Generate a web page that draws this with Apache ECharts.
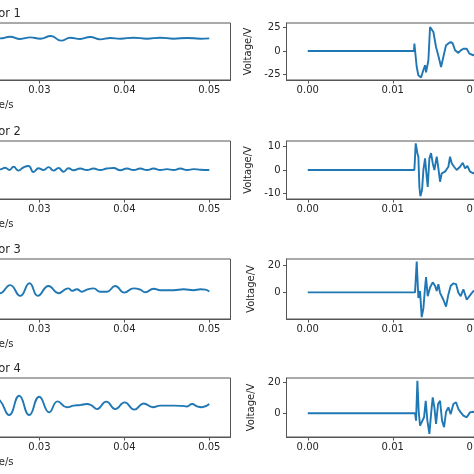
<!DOCTYPE html>
<html>
<head>
<meta charset="utf-8">
<script src="https://cdn.jsdelivr.net/npm/echarts@6/dist/echarts.min.js"></script>
<style>html,body{margin:0;padding:0;background:#fff;}#c{width:474px;height:474px;}</style>
</head>
<body>
<div id="c"></div>
<script>
// ---------- data ----------
const titles = ['Sensor 1', 'Sensor 2', 'Sensor 3', 'Sensor 4'];
const xTicks = [0, 0.01, 0.02, 0.03, 0.04, 0.05];

// left column (late-time response)
const tL1 = [0.0245,0.02537,0.02655,0.02773,0.02891,0.03009,0.03135,0.03256,0.03362,0.0348,0.03598,0.03716,0.03834,0.03952,0.04109,0.04266,0.04424,0.04581,0.04738,0.04895,0.05];
const vL1 = [-0.02,-0.08,0.04,-0.12,-0.01,-0.10,0.09,-0.24,-0.03,-0.12,0.02,-0.15,-0.05,-0.10,-0.03,-0.10,-0.03,-0.10,-0.05,-0.10,-0.08];
const tL2 = [0.0245,0.02537,0.02596,0.02647,0.02695,0.02753,0.02812,0.02871,0.0293,0.02989,0.03048,0.03107,0.03166,0.03225,0.03284,0.03343,0.03402,0.0348,0.03559,0.03637,0.03716,0.03794,0.03873,0.03952,0.0403,0.04109,0.04187,0.04266,0.04344,0.04424,0.04502,0.04581,0.04659,0.04738,0.04816,0.04895,0.05];
const vL2 = [0.08,0.02,0.08,0,0.11,-0.02,0.09,0.14,-0.07,0.06,0,0.10,-0.02,0.07,-0.06,0.06,-0.01,0.05,0,0.05,0,0.05,0.07,-0.01,0.05,0,0.05,0,0.05,0,0.03,0,0.05,0,0.03,0.01,0];
const tL3 = [0.0245,0.02537,0.02655,0.02773,0.02883,0.02981,0.03107,0.03225,0.03304,0.03343,0.03382,0.03441,0.035,0.03559,0.03637,0.03716,0.03794,0.03893,0.03999,0.04109,0.04187,0.04246,0.04344,0.04424,0.04581,0.04698,0.04816,0.04895,0.04954,0.05];
const vL3 = [0.1,-0.14,0.13,-0.23,0.19,-0.23,0.10,-0.14,-0.01,0.02,-0.06,-0.01,-0.09,-0.02,0.02,-0.09,-0.09,0.10,-0.12,0.02,-0.02,-0.11,0.01,-0.04,-0.04,-0.01,-0.04,-0.01,-0.02,-0.09];
const tL4 = [0.0245,0.02537,0.02643,0.02761,0.02879,0.02997,0.03115,0.03213,0.03324,0.03402,0.0348,0.03559,0.03618,0.03677,0.03787,0.03893,0.04003,0.04117,0.04227,0.04337,0.04424,0.04581,0.04678,0.04738,0.04797,0.04856,0.04914,0.05];
const vL4 = [0.3,0.15,-0.38,0.34,-0.38,0.30,-0.28,0.13,-0.09,-0.03,-0.01,0.03,-0.03,-0.16,0.12,-0.16,0.09,-0.18,0.05,-0.09,-0.03,-0.03,-0.04,-0.06,0.03,-0.06,-0.09,0.03];

// right column (onset of burst)
const tR1 = [0,0.0125,0.012545,0.012819,0.013015,0.013329,0.013604,0.0138,0.013918,0.014192,0.014388,0.014584,0.01478,0.015094,0.01525,0.015447,0.015682,0.015957,0.01627,0.016545,0.016819,0.017055,0.017329,0.017721,0.017996,0.01831,0.018702,0.019016,0.019486,0.0200,0.0206];
const vR1 = [0,0,7.8,-16.9,-25.6,-28,-20,-15,-22.6,-9.8,25.3,27,20,4.2,6,-8,-16.9,-6,6,8,9.5,8,0.7,-2,0.7,2.4,2.4,-2.8,-4.5,-3,1];
const tR2 = [0,0.012545,0.012702,0.012898,0.013015,0.013133,0.013251,0.013447,0.013604,0.0138,0.013996,0.014114,0.01431,0.014506,0.014702,0.014898,0.015173,0.015369,0.015565,0.015761,0.016153,0.016545,0.016741,0.016937,0.017212,0.017526,0.017918,0.018231,0.018506,0.01878,0.019094,0.019486,0.0201];
const vR2 = [0,0,11.4,7.2,5.7,-7.2,-11.2,-8.6,0,5,-3,-7.2,5,7.2,2.9,0,5.7,0.7,-5,-1.4,-0.7,1.4,5.7,2.9,1.4,0,1.4,3.1,0.7,1.7,-0.7,-1.4,-0.5];
const tR3 = [0,0.012624,0.012819,0.013015,0.013212,0.013408,0.013604,0.0138,0.013918,0.014114,0.014388,0.014702,0.014976,0.015173,0.015369,0.015565,0.015957,0.01627,0.016545,0.016819,0.017133,0.017447,0.017721,0.017996,0.01831,0.018702,0.019016,0.019486,0.0201];
const vR3 = [0,0,22.8,-4.1,1,-18.2,-11.8,3.6,11.3,-2.8,3.6,7.4,4.9,1,6.1,-0.3,-5.4,-10.5,-1.5,4.9,6.6,6.1,-0.3,-2.8,2.3,-5.4,-2.8,1,0];
const tR4 = [0,0.012624,0.012741,0.012898,0.013055,0.013212,0.013447,0.013682,0.013878,0.014074,0.01431,0.014506,0.014702,0.014898,0.015094,0.01533,0.015565,0.0158,0.016035,0.01627,0.016545,0.016819,0.017133,0.017447,0.017721,0.017996,0.01831,0.018702,0.019094,0.019486,0.0201];
const vR4 = [0,0,-4.8,21.3,1,-8.1,-7,-2.6,8.2,-4.8,-13.5,-0.5,10.4,3.9,-7,6.1,8.2,-4.8,-9.1,1,3.9,-0.5,6.1,7.2,2.8,0.6,-1.5,-2.6,0.6,1,0];

// axis ranges and tick labels
const yRangeL = [[-3, 1], [-1, 1], [-1, 1], [-1.2, 1]];
const yTicksL = [[-2, 0], [-1, 0, 1], [-1, 0, 1], [-1, 0, 1]];
const yRangeR = [[-30.6, 29.5], [-12.4, 12.4], [-19.6, 24.6], [-15.5, 23.1]];
const yTicksR = [[-25, 0, 25], [-10, 0, 10], [0, 20], [0, 20]];

const leftT = [tL1, tL2, tL3, tL4], leftV = [vL1, vL2, vL3, vL4];
const rightT = [tR1, tR2, tR3, tR4], rightV = [vR1, vR2, vR3, vR4];

// ---------- layout ----------
const rowTop = [23, 141, 259, 378];
const rowH = [57, 58, 60, 59];
const colLeft = [-236.5, 286.5];
const colW = [467, 467.5];
const yNameGapR = [28, 28, 20, 20];
const spine = '#555';
const txt = '#262626';

const grid = [], xAxis = [], yAxis = [], series = [], title = [];
let gi = 0;
for (let r = 0; r < 4; r++) {
  for (let c = 0; c < 2; c++) {
    grid.push({ left: colLeft[c], top: rowTop[r], width: colW[c], height: rowH[r],
      show: true, borderColor: spine, borderWidth: 1, backgroundColor: 'transparent',
      containLabel: false, outerBoundsMode: 'none' });
    xAxis.push({ gridIndex: gi, type: 'value', min: -0.0025, max: 0.0525,
      axisLine: { show: true, onZero: false, lineStyle: { color: spine, width: 1 } },
      axisTick: { show: true, inside: false, length: 3.5, customValues: xTicks, lineStyle: { color: spine } },
      axisLabel: { customValues: xTicks, formatter: v => v.toFixed(2), margin: 5, fontSize: 10, color: txt },
      splitLine: { show: false },
      name: 'Time/s', nameLocation: 'middle', nameGap: 20, nameTextStyle: { fontSize: 10, color: txt } });
    const rng = c === 0 ? yRangeL[r] : yRangeR[r];
    const tk = c === 0 ? yTicksL[r] : yTicksR[r];
    yAxis.push({ gridIndex: gi, type: 'value', min: rng[0], max: rng[1],
      axisLine: { show: true, onZero: false, lineStyle: { color: spine, width: 1 } },
      axisTick: { show: true, inside: false, length: 3.5, customValues: tk, lineStyle: { color: spine } },
      axisLabel: { customValues: tk, margin: 6, fontSize: 10, color: txt },
      splitLine: { show: false },
      name: 'Voltage/V', nameLocation: 'middle', nameRotate: 90, nameGap: c === 0 ? 30 : yNameGapR[r],
      nameTextStyle: { fontSize: 10, color: txt } });
    const T = c === 0 ? leftT[r] : rightT[r];
    const V = c === 0 ? leftV[r] : rightV[r];
    series.push({ type: 'line', xAxisIndex: gi, yAxisIndex: gi, showSymbol: false,
      smooth: c === 0 ? 0.5 : false,
      lineStyle: { color: '#1f77b4', width: 1.9 }, itemStyle: { color: '#1f77b4' },
      data: T.map((t, i) => [t, V[i]]) });
    gi++;
  }
  title.push({ text: titles[r], left: -29.5, top: rowTop[r] - 15, padding: 0,
    textStyle: { fontSize: 11.5, fontWeight: 'normal', color: txt, fontFamily: 'DejaVu Sans' } });
}

const chart = echarts.init(document.getElementById('c'), null, { renderer: 'canvas' });
chart.setOption({
  animation: false,
  backgroundColor: '#fff',
  textStyle: { fontFamily: 'DejaVu Sans' },
  title, grid, xAxis, yAxis, series
});
</script>
</body>
</html>
